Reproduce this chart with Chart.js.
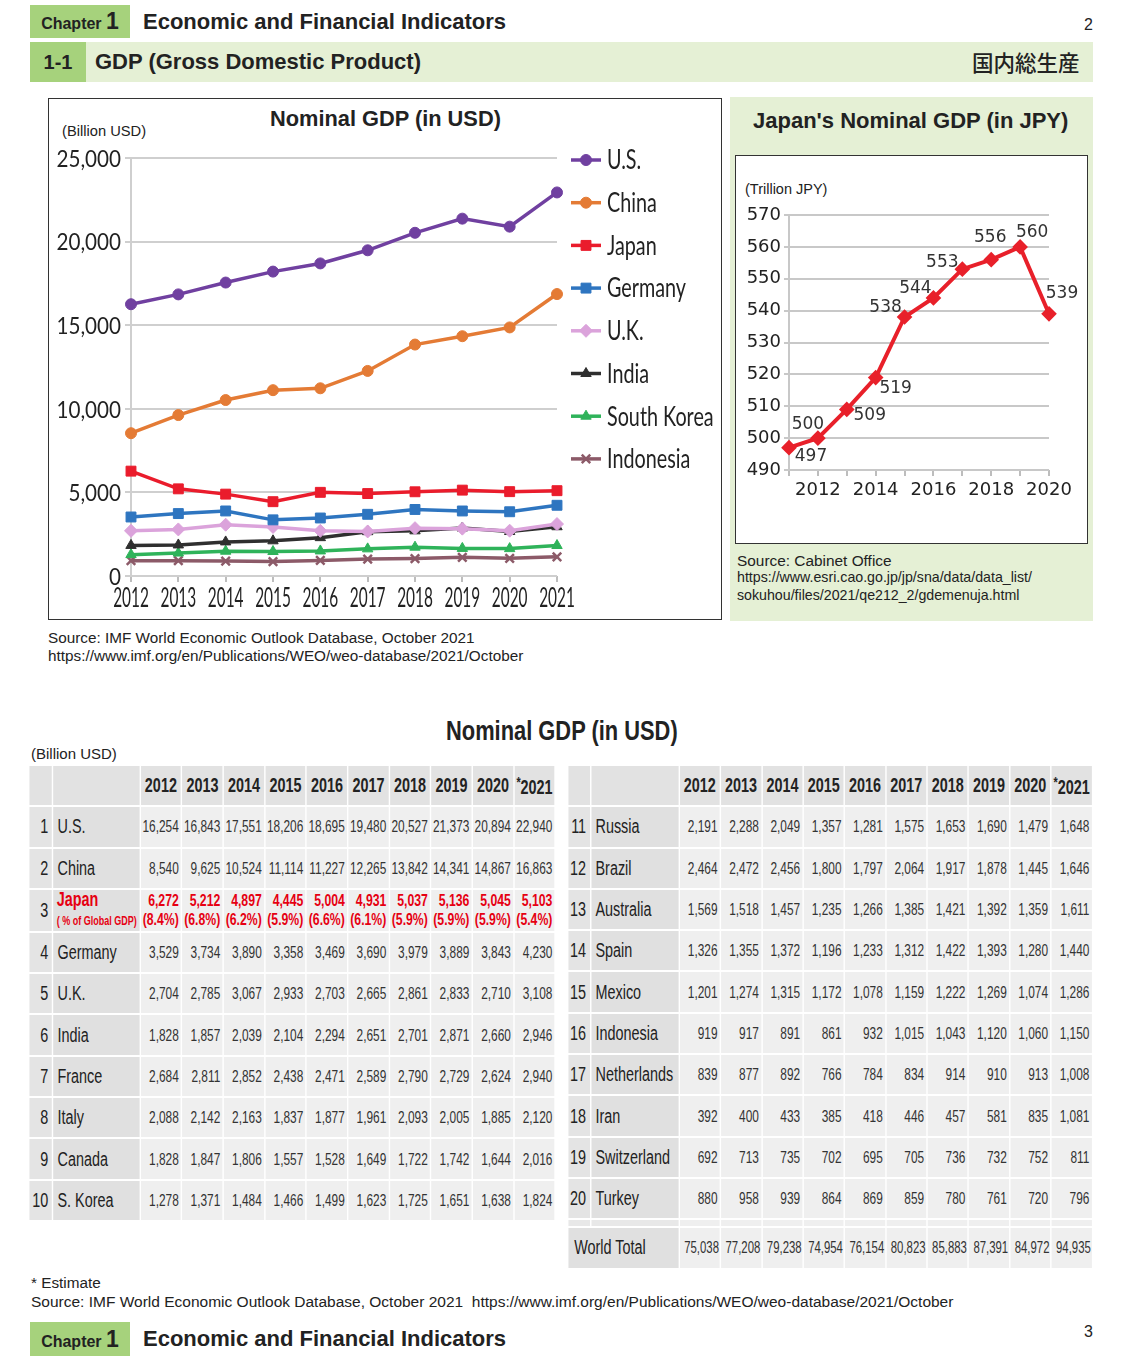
<!DOCTYPE html>
<html>
<head>
<meta charset="utf-8">
<script src="https://cdn.jsdelivr.net/npm/chart.js@4.4.1/dist/chart.umd.min.js"></script>
<style>
body{margin:0;width:1123px;height:1359px;position:relative;background:#fff;font-family:"Liberation Sans",Arial,sans-serif;color:#222;overflow:hidden}
.abs{position:absolute;white-space:nowrap}
.chap{background:#a6d27c;font-weight:bold;text-align:center}
.chap small{font-size:16px}
.chap b{font-size:23px}
.band{background:#e5f0d5}
table{position:absolute;border-collapse:separate;table-layout:fixed;color:#333;transform-origin:0 0}
td,th{padding:0;height:39.3px;white-space:nowrap}
th{background:#e2e2e2;font-size:20px;font-weight:bold;color:#222;text-align:center}
td.rk{background:#e4e4e4;text-align:right;font-size:20px;padding-right:5px;color:#222}
td.nm{background:#e0e0e0;text-align:left;font-size:20px;padding-left:6px;color:#222}
td.v{background:#efefef;text-align:right;font-size:16.5px;padding-right:3px}
tr.jp td.v,tr.jp td.nm{color:#e60012;font-weight:bold}
tr.gap td{height:6px;background:#e8e8e8}
tr.gap td.v{background:#efefef}
</style>
</head>
<body>

<!-- top header -->
<div class="abs chap" style="left:30px;top:5px;width:100px;height:33px;line-height:33px"><small>Chapter</small> <b>1</b></div>
<div class="abs" style="left:143px;top:9px;font-size:22px;font-weight:bold;line-height:26px">Economic and Financial Indicators</div>
<div class="abs" style="left:1084px;top:16px;font-size:16px;line-height:18px">2</div>
<div class="abs band" style="left:30px;top:42px;width:1063px;height:40px"></div>
<div class="abs chap" style="left:30px;top:42px;width:56px;height:40px;line-height:40px;font-size:20px">1-1</div>
<div class="abs" style="left:95px;top:49px;font-size:22px;font-weight:bold;line-height:26px">GDP (Gross Domestic Product)</div>
<div class="abs" style="left:972px;top:48px;font-size:21.5px;line-height:28px;font-family:'Noto Sans CJK JP',sans-serif;font-weight:500">国内総生産</div>

<!-- left chart box -->
<div class="abs" style="left:48px;top:98px;width:672px;height:520px;border:1.5px solid #333"></div>
<div class="abs" style="left:270px;top:106px;font-size:21.8px;font-weight:bold;line-height:26px">Nominal GDP (in USD)</div>
<div class="abs" style="left:62px;top:123px;font-size:14.7px;line-height:16px">(Billion USD)</div>
<div class="abs" style="left:50px;top:140px;width:670px;height:475px"><canvas id="usdChart"></canvas></div>

<!-- right panel -->
<div class="abs band" style="left:730px;top:97px;width:363px;height:524px"></div>
<div class="abs" style="left:753px;top:108px;font-size:22px;font-weight:bold;line-height:26px">Japan's Nominal GDP (in JPY)</div>
<div class="abs" style="left:735px;top:155px;width:351px;height:387px;border:1.5px solid #333;background:#fff"></div>
<div class="abs" style="left:745px;top:181px;font-size:14.5px;line-height:16px">(Trillion JPY)</div>
<div class="abs" style="left:737px;top:195px;width:349px;height:305px"><canvas id="jpyChart"></canvas></div>
<div class="abs" style="left:737px;top:552px;font-size:15.4px;line-height:17px">Source: Cabinet Office</div>
<div class="abs" style="left:737px;top:568px;font-size:14.2px;line-height:18px">https://www.esri.cao.go.jp/jp/sna/data/data_list/<br>sokuhou/files/2021/qe212_2/gdemenuja.html</div>

<!-- left source -->
<div class="abs" style="left:48px;top:629px;font-size:15.3px;line-height:18px">Source: IMF World Economic Outlook Database, October 2021<br>https://www.imf.org/en/Publications/WEO/weo-database/2021/October</div>

<!-- table -->
<div class="abs" style="left:446px;top:716px;font-size:27px;font-weight:bold;line-height:30px;transform:scaleX(0.81);transform-origin:0 0">Nominal GDP (in USD)</div>
<div class="abs" style="left:31px;top:746px;font-size:15px;line-height:16px">(Billion USD)</div>
<table id="tblLeft"></table>
<table id="tblRight"></table>

<div class="abs" style="left:31px;top:1275px;font-size:15.3px;line-height:16px">* Estimate</div>
<div class="abs" style="left:31px;top:1293px;font-size:15.5px;line-height:17px">Source: IMF World Economic Outlook Database, October 2021&nbsp; https://www.imf.org/en/Publications/WEO/weo-database/2021/October</div>

<!-- bottom header -->
<div class="abs chap" style="left:30px;top:1322px;width:100px;height:34px;line-height:34px"><small>Chapter</small> <b>1</b></div>
<div class="abs" style="left:143px;top:1326px;font-size:22px;font-weight:bold;line-height:26px">Economic and Financial Indicators</div>
<div class="abs" style="left:1084px;top:1323px;font-size:16px;line-height:18px">3</div>

<script>
const years=["2012","2013","2014","2015","2016","2017","2018","2019","2020","2021"]

const usGdp=[16254,16843,17551,18206,18695,19480,20527,21373,20894,22940]
const chinaGdp=[8540,9625,10524,11114,11227,12265,13842,14341,14867,16863]
const japanGdp=[6272,5212,4897,4445,5004,4931,5037,5136,5045,5103]
const japanShare=["8.4%","6.8%","6.2%","5.9%","6.6%","6.1%","5.9%","5.9%","5.9%","5.4%"]
const germanyGdp=[3529,3734,3890,3358,3469,3690,3979,3889,3843,4230]
const ukGdp=[2704,2785,3067,2933,2703,2665,2861,2833,2710,3108]
const indiaGdp=[1828,1857,2039,2104,2294,2651,2701,2871,2660,2946]
const franceGdp=[2684,2811,2852,2438,2471,2589,2790,2729,2624,2940]
const italyGdp=[2088,2142,2163,1837,1877,1961,2093,2005,1885,2120]
const canadaGdp=[1828,1847,1806,1557,1528,1649,1722,1742,1644,2016]
const koreaGdp=[1278,1371,1484,1466,1499,1623,1725,1651,1638,1824]
const russiaGdp=[2191,2288,2049,1357,1281,1575,1653,1690,1479,1648]
const brazilGdp=[2464,2472,2456,1800,1797,2064,1917,1878,1445,1646]
const australiaGdp=[1569,1518,1457,1235,1266,1385,1421,1392,1359,1611]
const spainGdp=[1326,1355,1372,1196,1233,1312,1422,1393,1280,1440]
const mexicoGdp=[1201,1274,1315,1172,1078,1159,1222,1269,1074,1286]
const indonesiaGdp=[919,917,891,861,932,1015,1043,1120,1060,1150]
const netherlandsGdp=[839,877,892,766,784,834,914,910,913,1008]
const iranGdp=[392,400,433,385,418,446,457,581,835,1081]
const switzerlandGdp=[692,713,735,702,695,705,736,732,752,811]
const turkeyGdp=[880,958,939,864,869,859,780,761,720,796]
const worldGdp=[75038,77208,79238,74954,76154,80823,85883,87391,84972,94935]

const jpyYears=["2011","2012","2013","2014","2015","2016","2017","2018","2019","2020"]
const jpyGdp=[497,500,509,519,538,544,553,556,560,539]

const fmt=n=>n.toLocaleString("en-US")

// ---------- tables (drawn wide, then squeezed like a condensed face) ----------
const sq=0.72

function setupTable(id,left,widths){
const t=document.getElementById(id)
const total=widths.reduce((a,b)=>a+b,0)+2*(widths.length+1)
t.style.left=left+"px"
t.style.top="764px"
t.style.width=(total/sq)+"px"
t.style.borderSpacing=(2/sq)+"px 2px"
t.style.transform="scaleX("+sq+")"
return "<colgroup>"+widths.map(w=>`<col style="width:${w/sq}px">`).join("")+"</colgroup>"
}
function headRow(){
let s="<tr><th></th><th></th>"
years.forEach((y,i)=>{
s+= i==9 ? `<th><sup style="font-size:15px;vertical-align:7px">*</sup>${y}</th>` : `<th>${y}</th>`
})
return s+"</tr>"
}
function row(rank,name,vals){
let s=`<tr><td class="rk">${rank}</td><td class="nm">${name}</td>`
vals.forEach(v=>{s+=`<td class="v">${fmt(v)}</td>`})
return s+"</tr>"
}

let left=setupTable("tblLeft",28,[22,85,39.5,39.5,39.5,39.5,39.5,39.5,39.5,39.5,39.5,39.5])+headRow()
left+=row(1,"U.S.",usGdp)
left+=row(2,"China",chinaGdp)
left+=`<tr class="jp"><td class="rk">3</td><td class="nm" style="line-height:19px;padding-left:5px"><span style="font-size:20px">Japan</span><br><span style="font-size:12.5px">( % of Global GDP)</span></td>`
japanGdp.forEach((v,i)=>{
left+=`<td class="v" style="line-height:19px;font-size:17px">${fmt(v)}<br>(${japanShare[i]})</td>`
})
left+="</tr>"
left+=row(4,"Germany",germanyGdp)
left+=row(5,"U.K.",ukGdp)
left+=row(6,"India",indiaGdp)
left+=row(7,"France",franceGdp)
left+=row(8,"Italy",italyGdp)
left+=row(9,"Canada",canadaGdp)
left+=row(10,"S. Korea",koreaGdp)
document.getElementById("tblLeft").innerHTML=left

let right=setupTable("tblRight",567,[21,86,39.3,39.3,39.3,39.3,39.3,39.3,39.3,39.3,39.3,39.3])+headRow()
right+=row(11,"Russia",russiaGdp)
right+=row(12,"Brazil",brazilGdp)
right+=row(13,"Australia",australiaGdp)
right+=row(14,"Spain",spainGdp)
right+=row(15,"Mexico",mexicoGdp)
right+=row(16,"Indonesia",indonesiaGdp)
right+=row(17,"Netherlands",netherlandsGdp)
right+=row(18,"Iran",iranGdp)
right+=row(19,"Switzerland",switzerlandGdp)
right+=row(20,"Turkey",turkeyGdp)
right+=`<tr class="gap"><td></td><td></td>${years.map(()=>'<td class="v"></td>').join("")}</tr>`
right+=`<tr><td class="nm" colspan="2" style="padding-left:8px">World Total</td>${worldGdp.map(v=>`<td class="v" style="font-size:15.8px;padding-right:1px">${fmt(v)}</td>`).join("")}</tr>`
document.getElementById("tblRight").innerHTML=right

// ---------- USD line chart ----------
const series=[
{label:"U.S.",data:usGdp,color:"#7040a0",style:"circle",r:5.5},
{label:"China",data:chinaGdp,color:"#e47b35",style:"circle",r:5.5},
{label:"Japan",data:japanGdp,color:"#ea1c2c",style:"rect",r:7},
{label:"Germany",data:germanyGdp,color:"#2e75c0",style:"rect",r:7},
{label:"U.K.",data:ukGdp,color:"#dba3db",style:"rectRot",r:6.5},
{label:"India",data:indiaGdp,color:"#2f2f2f",style:"triangle",r:6},
{label:"South Korea",data:koreaGdp,color:"#2fb35a",style:"triangle",r:6},
{label:"Indonesia",data:indonesiaGdp,color:"#8c5a68",style:"crossRot",r:6}
]

// the original's text is a tall condensed face: draw it squeezed
function squeezeText(ctx,text,x,y,font,sx,align){
ctx.save()
ctx.translate(x,y)
ctx.scale(sx,1)
ctx.font=font
ctx.textAlign=align
ctx.textBaseline="middle"
ctx.fillText(text,0,0)
ctx.restore()
}

const squeezedTicks={
id:"squeezedTicks",
afterDraw(chart){
const ctx=chart.ctx
const xs=chart.scales.x
const ys=chart.scales.y
ctx.save()
ctx.fillStyle="#222"
ys.ticks.forEach((t,i)=>{
squeezeText(ctx,fmt(t.value),ys.right-10,ys.getPixelForTick(i)+1,"24px Lato",0.86,"right")
})
xs.ticks.forEach((t,i)=>{
squeezeText(ctx,xs.getLabelForValue(t.value),xs.getPixelForTick(i),xs.top+22,"27px Lato",0.57,"center")
})
ctx.restore()
}
}

const lineLegend={
id:"lineLegend",
afterDraw(chart){
const ctx=chart.ctx
const x=chart.chartArea.right+14
chart.data.datasets.forEach((ds,i)=>{
const y=20+i*42.7
ctx.save()
ctx.strokeStyle=ds.borderColor
ctx.fillStyle=ds.borderColor
ctx.lineWidth=3.5
ctx.beginPath()
ctx.moveTo(x,y)
ctx.lineTo(x+30,y)
ctx.stroke()
ctx.lineWidth=ds.pointBorderWidth
Chart.helpers.drawPoint(ctx,{pointStyle:ds.pointStyle,radius:ds.pointRadius,borderWidth:ds.pointBorderWidth},x+15,y)
ctx.fillStyle="#222"
squeezeText(ctx,ds.label,x+36,y+1,"26px Lato",0.76,"left")
ctx.restore()
})
}
}

new Chart(document.getElementById("usdChart"),{
type:"line",
data:{
labels:years,
datasets:series.map(s=>({
label:s.label,
data:s.data,
borderColor:s.color,
backgroundColor:s.color,
pointStyle:s.style,
pointRadius:s.r,
pointBorderWidth:s.style=="crossRot"?2.5:1,
borderWidth:3.5,
tension:0
}))
},
options:{
responsive:true,
maintainAspectRatio:false,
animation:false,
layout:{padding:{top:18,right:163,left:0,bottom:0}},
plugins:{legend:{display:false},tooltip:{enabled:false}},
scales:{
x:{
offset:false,
grid:{drawOnChartArea:false,drawTicks:true,tickLength:6,color:"#bdbdbd",lineWidth:2},
border:{display:false},
ticks:{display:false,autoSkip:false},
afterFit(a){a.height=39}
},
y:{
min:0,max:25000,
grid:{color:"#cfcfcf",lineWidth:2,tickLength:6},
border:{display:true,color:"#cfcfcf",width:2},
ticks:{display:false,stepSize:5000},
afterFit(a){a.width=81}
}
}
},
plugins:[squeezedTicks,lineLegend]
})

// ---------- JPY chart ----------
const jpyLabels={
id:"jpyLabels",
afterDatasetsDraw(chart){
// label offsets from each point, as placed in the original
const off=[[22,9],[-10,-14],[23,6],[20,11],[-19,-9],[-18,-9],[-20,-7],[-1,-22],[12,-14],[13,-20]]
const ctx=chart.ctx
const pts=chart.getDatasetMeta(0).data
ctx.save()
ctx.font='17px "DejaVu Sans"'
ctx.fillStyle="#333"
ctx.textAlign="center"
ctx.textBaseline="middle"
pts.forEach((p,i)=>{
ctx.fillText(String(chart.data.datasets[0].data[i]),p.x+off[i][0],p.y+off[i][1])
})
ctx.restore()
}
}

new Chart(document.getElementById("jpyChart"),{
type:"line",
data:{
labels:jpyYears,
datasets:[{
data:jpyGdp,
borderColor:"#e8202a",
backgroundColor:"#e8202a",
borderWidth:4,
pointStyle:"rectRot",
pointRadius:5,
tension:0
}]
},
options:{
responsive:true,
maintainAspectRatio:false,
animation:false,
layout:{padding:{top:20,right:37,left:0,bottom:0}},
plugins:{legend:{display:false},tooltip:{enabled:false}},
scales:{
x:{
offset:false,
grid:{drawOnChartArea:false,drawTicks:true,tickLength:6,color:"#bdbdbd",lineWidth:2},
border:{display:false},
ticks:{color:"#222",padding:4,font:{family:"DejaVu Sans",size:18},maxRotation:0,autoSkip:false,
callback:function(v){const l=this.getLabelForValue(v);return Number(l)%2==0?l:""}},
afterFit(a){a.height=30}
},
y:{
min:490,max:570,
grid:{color:"#c8c8c8",lineWidth:2,tickLength:5},
border:{display:true,color:"#c8c8c8",width:2},
ticks:{stepSize:10,color:"#222",padding:3,font:{family:"DejaVu Sans",size:18}},
afterFit(a){a.width=52}
}
}
},
plugins:[jpyLabels]
})
</script>
</body>
</html>
